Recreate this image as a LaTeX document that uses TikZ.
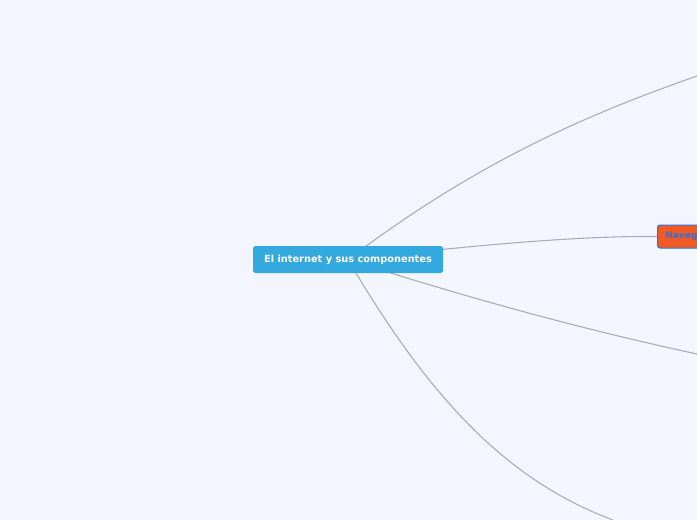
\documentclass[tikz,border=0pt]{standalone}
\usepackage{fontspec}
\setmainfont{DejaVu Sans}
\definecolor{bgc}{HTML}{F3F6FE}
\definecolor{rootc}{HTML}{33A9E0}
\definecolor{edgec}{HTML}{ABADB5}
\definecolor{orangec}{HTML}{F15A24}
\definecolor{bluec}{HTML}{2A72E0}
\pgfdeclarelayer{bg}
\pgfdeclarelayer{edges}
\pgfsetlayers{bg,edges,main}
\tikzset{
  rootnode/.style={fill=rootc, rounded corners=2.5pt, text=white, font=\bfseries\fontsize{9.8}{11}\selectfont, minimum width=190pt, minimum height=27pt, inner sep=0pt},
  childnode/.style={fill=orangec, draw=bluec, line width=1pt, rounded corners=2.5pt, text=bluec, font=\bfseries\fontsize{9}{10}\selectfont, minimum height=23pt, inner xsep=8pt, inner ysep=0pt, anchor=west},
  edge/.style={draw=edgec, line width=1.1pt}
}
\begin{document}
\begin{tikzpicture}[x=1pt,y=-1pt]
\useasboundingbox (0,0) rectangle (697,520);
\clip (0,0) rectangle (697,520);
\begin{pgfonlayer}{bg}
\fill[bgc] (0,0) rectangle (697,520);
\end{pgfonlayer}
\node[rootnode] (c) at (348,259.5) {El internet y sus componentes};
\node[childnode] (n) at (657,236.5) {Navegadores};
\coordinate (e1) at (697,76);
\coordinate (e3) at (697,354);
\coordinate (e4) at (613,520);
\begin{pgfonlayer}{edges}
\draw[edge] (c.center) .. controls (478,161.5) and (587,114.5) .. (e1);
\draw[edge] (c.center) .. controls (520,240) and (600,236) .. (n.west);
\draw[edge] (c.center) .. controls (490,305) and (600,333) .. (e3);
\draw[edge] (c.center) .. controls (432,403) and (510,481.5) .. (e4);
\end{pgfonlayer}
\end{tikzpicture}
\end{document}
